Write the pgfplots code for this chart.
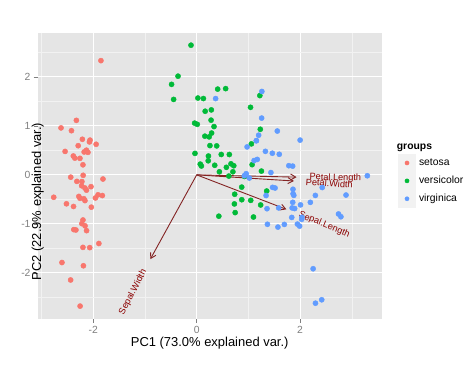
\documentclass[border=0pt]{standalone}
\usepackage{fontspec}
\setmainfont{Liberation Sans}
\usepackage{pgfplots}
\pgfplotsset{compat=1.18}
\usepackage{pgfplotstable}
\usetikzlibrary{arrows.meta}
\definecolor{bggrey}{HTML}{E5E5E5}
\definecolor{grey95}{HTML}{F2F2F2}
\definecolor{grey50}{HTML}{7F7F7F}
\definecolor{setosa}{HTML}{F8766D}
\definecolor{versi}{HTML}{00BA38}
\definecolor{virg}{HTML}{619CFF}
\definecolor{arrowred}{HTML}{832424}
\definecolor{labred}{HTML}{8B0000}

\pgfplotstableread{
x y
-2.257 -0.478
-2.074 0.672
-2.356 0.341
-2.292 0.595
-2.382 -0.645
-2.069 -1.484
-2.436 -0.047
-2.225 -0.222
-2.327 1.112
-2.177 0.467
-2.159 -1.040
-2.318 -0.133
-2.211 0.726
-2.624 0.958
-2.191 -1.854
-2.255 -2.677
-2.200 -1.479
-2.183 -0.487
-1.892 -1.400
-2.336 -1.124
-1.908 -0.407
-2.200 -0.921
-2.765 -0.457
-1.813 -0.085
-2.220 -0.137
-1.945 0.624
-2.044 -0.241
-2.161 -0.525
-2.132 -0.312
-2.258 0.337
-2.133 0.503
-1.825 -0.422
-2.606 -1.788
-2.438 -2.144
-2.103 0.459
-2.200 0.205
-2.038 -0.659
-2.519 -0.590
-2.422 0.901
-2.162 -0.268
-2.279 -0.440
-1.852 2.330
-2.545 0.478
-1.958 -0.471
-2.130 -1.138
-2.063 0.709
-2.377 -1.117
-2.386 0.385
-2.222 -0.995
-2.196 -0.009
}\setosatab

\pgfplotstableread{
x y
1.098 -0.860
0.729 -0.593
1.237 -0.614
0.406 1.749
1.072 0.208
0.387 0.591
0.744 -0.770
-0.486 1.846
0.925 -0.032
0.011 1.031
-0.110 2.645
0.439 0.063
0.560 1.759
0.717 0.186
-0.033 0.438
0.872 -0.507
0.349 0.196
0.158 0.789
1.221 1.617
0.164 1.298
0.735 -0.395
0.475 0.416
1.230 0.930
0.631 0.415
0.700 0.063
0.871 -0.250
1.252 0.077
1.354 -0.330
0.663 0.225
-0.040 1.055
0.130 1.557
0.023 1.567
0.241 0.775
1.058 0.632
0.223 0.287
0.428 -0.843
1.045 -0.520
1.041 1.378
0.069 0.219
0.283 1.325
0.278 1.116
0.622 -0.025
0.335 0.985
-0.361 2.013
0.288 0.853
0.091 0.181
0.227 0.384
0.574 0.154
-0.446 1.539
0.256 0.597
}\versitab

\pgfplotstableread{
x y
1.838 -0.868
1.154 0.697
2.198 -0.560
1.435 0.047
1.862 -0.294
2.743 -0.798
0.366 1.556
2.295 -0.419
2.000 0.709
2.252 -1.915
1.360 -0.690
1.597 0.420
1.878 -0.418
1.256 1.158
1.463 0.441
1.585 -0.674
1.467 -0.255
2.418 -2.548
3.300 -0.018
1.260 1.701
2.031 -0.907
0.975 0.570
2.888 -0.412
1.329 0.480
1.695 -1.011
1.948 -1.004
1.171 0.315
1.018 -0.064
1.782 0.187
1.857 -0.560
2.428 -0.258
2.297 -2.618
1.856 0.178
1.110 0.292
1.198 0.809
2.789 -0.854
1.571 -1.065
1.342 -0.421
0.922 -0.017
1.846 -0.674
2.008 -0.612
1.895 -0.687
1.154 0.697
2.034 -0.865
1.991 -1.046
1.864 -0.386
1.559 0.894
1.516 -0.268
1.368 -1.008
0.957 0.024
}\virgtab

\begin{document}
\begin{tikzpicture}
\useasboundingbox (0,0) rectangle (474bp,384bp);
\begin{axis}[
  at={(37.7bp,65bp)}, anchor=south west,
  scale only axis, width=344bp, height=286.3bp,
  xmin=-3.075, xmax=3.578, ymin=-2.94, ymax=2.90,
  axis background/.style={fill=bggrey},
  axis line style={draw=none},
  tick pos=left, tick align=outside,
  major tick length=4bp, minor tick length=0pt,
  tick style={color=grey50, line width=0.6bp},
  xtick={-2,0,2}, xticklabels={-2,0,2},
  ytick={-2,-1,0,1,2}, yticklabels={-2,-1,0,1,2},
  minor xtick={-3,-1,1,3}, minor ytick={-2.5,-1.5,-0.5,0.5,1.5,2.5},
  grid=both,
  major grid style={white, line width=1.1bp},
  minor grid style={grey95, line width=0.5bp},
  ticklabel style={font=\fontsize{10.4}{12}\selectfont, text=grey50},
  xticklabel style={inner sep=0pt, anchor=north, yshift=-3bp},
  yticklabel style={inner sep=0pt, anchor=east, xshift=-3bp},
  xlabel={PC1 (73.0\% explained var.)},
  ylabel={PC2 (22.9\% explained var.)},
  every axis x label/.style={at={(rel axis cs:0.5,0)}, anchor=center, yshift=-24bp, font=\fontsize{13}{15}\selectfont},
  every axis y label/.style={at={(rel axis cs:0,0.5)}, rotate=90, anchor=center, xshift=-25.7bp, font=\fontsize{13}{15}\selectfont},
  legend style={at={(rel axis cs:1.0483,0.5753)}, anchor=north west, draw=none, fill=none,
    inner sep=0pt, outer sep=0pt, row sep=0.5bp,
    font=\fontsize{10.4}{12}\selectfont,
    nodes={inner sep=0pt},
    /tikz/every odd column/.append style={column sep=3.3bp}},
  legend cell align=left,
  legend image code/.code={
    \fill[grey95] (0bp,-8.5bp) rectangle (17bp,8.5bp);
    \draw[mark size=2.1bp] plot coordinates {(8.5bp,0bp)};
  },
]
\addplot[forget plot, arrowred, line width=0.9bp, -{Straight Barb[angle=60:6bp]}] coordinates {(0,0) (1.735,-0.703)};
\addplot[forget plot, arrowred, line width=0.9bp, -{Straight Barb[angle=60:6bp]}] coordinates {(0,0) (-0.897,-1.720)};
\addplot[forget plot, arrowred, line width=0.9bp, -{Straight Barb[angle=60:6bp]}] coordinates {(0,0) (1.932,-0.046)};
\addplot[forget plot, arrowred, line width=0.9bp, -{Straight Barb[angle=60:6bp]}] coordinates {(0,0) (1.881,-0.125)};

\addplot[only marks, mark=*, mark size=2.6bp, color=setosa, mark options={draw=none, fill=setosa}] table {\setosatab};
\addlegendentry{setosa}
\addplot[only marks, mark=*, mark size=2.6bp, color=versi, mark options={draw=none, fill=versi}] table {\versitab};
\addlegendentry{versicolor}
\addplot[only marks, mark=*, mark size=2.6bp, color=virg, mark options={draw=none, fill=virg}] table {\virgtab};
\addlegendentry{virginica}

\node[anchor=west, rotate=-1.36, inner xsep=12.9bp, inner ysep=0pt, text=labred, font=\fontsize{9.2}{10}\selectfont] at (axis cs:1.932,-0.046) {Petal.Length};
\node[anchor=west, rotate=-3.80, inner xsep=11.8bp, inner ysep=0pt, text=labred, font=\fontsize{9.2}{10}\selectfont] at (axis cs:1.881,-0.125) {Petal.Width};
\node[anchor=west, rotate=-22.05, inner xsep=13.6bp, inner ysep=0pt, text=labred, font=\fontsize{9.2}{10}\selectfont] at (axis cs:1.735,-0.703) {Sepal.Length};
\node[anchor=east, rotate=62.45, inner xsep=12.4bp, inner ysep=0pt, text=labred, font=\fontsize{9.2}{10}\selectfont] at (axis cs:-0.897,-1.720) {Sepal.Width};
\end{axis}
\node[anchor=west, inner sep=0pt, font=\fontsize{10.4}{12}\selectfont\bfseries] at (396.7bp,236bp) {groups};
\end{tikzpicture}
\end{document}
